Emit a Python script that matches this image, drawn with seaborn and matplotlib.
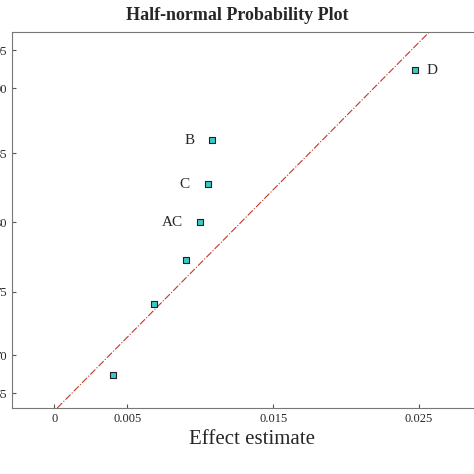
import numpy as np
import pandas as pd
import seaborn as sns
import matplotlib.pyplot as plt

sns.set_style("ticks")
plt.rcParams['font.family'] = ['Liberation Serif', 'DejaVu Serif']

# effect estimates and their half-normal positions (axis units = probability scale position)
effects = [0.0040, 0.0068, 0.0090, 0.0100, 0.0105, 0.0108, 0.0247]
positions = [33, 104, 148, 186, 224, 268, 338]
labels = ["", "", "", "AC", "C", "B", "D"]
tick_pos = [15, 53, 116, 186, 255, 320, 358]
tick_labels = ["65", "70", "75", "80", "85", "90", "95"]
line_x = [0.0002, 0.0257]
line_y = [0, 376]

df = pd.DataFrame({"effect": effects, "pos": positions, "label": labels})

fig = plt.figure(figsize=(4.74, 4.74), dpi=100)
ax = fig.add_axes([12/474, 66/474, 480/474, 376/474])
ax.plot(line_x, line_y, color="#c0392b", lw=0.8, ls="-.")
sns.scatterplot(data=df, x="effect", y="pos", marker="s", s=22, color="#3cc8c8",
                edgecolor="#222222", linewidth=0.8, ax=ax, zorder=3)
for _, r in df.iterrows():
    if r["label"] == "D":
        ax.text(r["effect"] + 0.0008, r["pos"], r["label"], fontsize=11, va="center", ha="left")
    elif r["label"]:
        ax.text(r["effect"] - 0.0012, r["pos"], r["label"], fontsize=11, va="center", ha="right")

ax.set_xlim(-0.0029, 0.0300)
ax.set_ylim(0, 376)
ax.set_xticks([0, 0.005, 0.015, 0.025])
ax.set_xticklabels(["0", "0.005", "0.015", "0.025"], fontsize=9)
ax.set_yticks(tick_pos)
ax.set_yticklabels(tick_labels, fontsize=9)
ax.tick_params(direction="in", length=3, color="#555555")
for s in ax.spines.values():
    s.set_color("#777777")
ax.set_xlabel("Effect estimate", fontsize=15)
ax.set_ylabel("")
fig.suptitle("Half-normal Probability Plot", fontsize=13, fontweight="bold", x=0.5, y=0.985)
fig.savefig("out.png", dpi=100)
